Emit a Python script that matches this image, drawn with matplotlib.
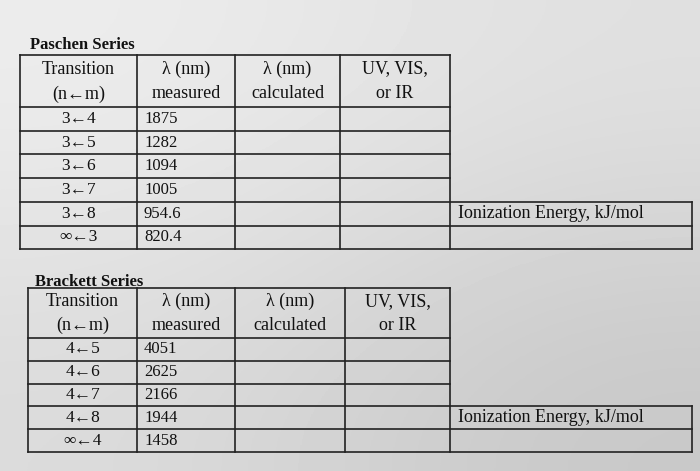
import matplotlib
matplotlib.use("Agg")
import matplotlib.pyplot as plt

paschen_trans = ["3←4", "3←5", "3←6", "3←7", "3←8", "∞←3"]
paschen_meas = ["1875", "1282", "1094", "1005", "954.6", "820.4"]
brackett_trans = ["4←5", "4←6", "4←7", "4←8", "∞←4"]
brackett_meas = ["4051", "2625", "2166", "1944", "1458"]
headers = [["Transition", "(n←m)"], ["λ (nm)", "measured"], ["λ (nm)", "calculated"], ["UV, VIS,", "or IR"]]

fig = plt.figure(figsize=(7, 4.71), dpi=100)
ax = fig.add_axes([0, 0, 1, 1])
ax.axis("off")
fig.patch.set_facecolor("#dcdcdc")
ax.imshow([[0.93, 0.88], [0.86, 0.78]], cmap="gray", vmin=0, vmax=1, extent=[0, 700, 471, 0], interpolation="bicubic", aspect="auto")
ax.set_xlim(0, 700); ax.set_ylim(471, 0)
F = dict(family=["Liberation Serif", "DejaVu Serif"], color="#111")

def table(title, tx, ty, cols, top, hb, rh, trans, meas):
    ax.text(tx, ty, title, fontsize=12, va="center", weight="bold", **F)
    n = len(trans)
    lines = [top, hb] + [hb + rh * (i + 1) for i in range(n)]
    bottom = lines[-1]
    lw = 1.2; c = "#222"
    for i, y in enumerate(lines):
        x2 = 692 if i >= n - 1 else cols[-1]
        ax.plot([cols[0], x2], [y, y], color=c, lw=lw)
    for x in cols:
        ax.plot([x, x], [top, bottom], color=c, lw=lw)
    ax.plot([692, 692], [lines[n - 1], bottom], color=c, lw=lw)
    for j, (h1, h2) in enumerate(headers):
        xc = (cols[j] + cols[j + 1]) / 2
        ax.text(xc, top + (hb - top) * 0.27, h1, ha="center", va="center", fontsize=13, **F)
        ax.text(xc, top + (hb - top) * 0.75, h2, ha="center", va="center", fontsize=13, **F)
    for i in range(n):
        yc = hb + rh * (i + 0.5)
        ax.text((cols[0] + cols[1]) / 2, yc, trans[i], ha="center", va="center", fontsize=12.5, **F)
        ax.text(cols[1] + 7, yc, meas[i], ha="left", va="center", fontsize=12, **F)
    ax.text(458, (lines[n - 1] + lines[n]) / 2, "Ionization Energy, kJ/mol", ha="left", va="center", fontsize=13, **F)

table("Paschen Series", 30, 45, [20, 137, 235, 340, 450], 55, 107, 23.7, paschen_trans, paschen_meas)
table("Brackett Series", 35, 282, [28, 137, 235, 345, 450], 288, 338, 22.8, brackett_trans, brackett_meas)
fig.savefig("out.png", dpi=100)
